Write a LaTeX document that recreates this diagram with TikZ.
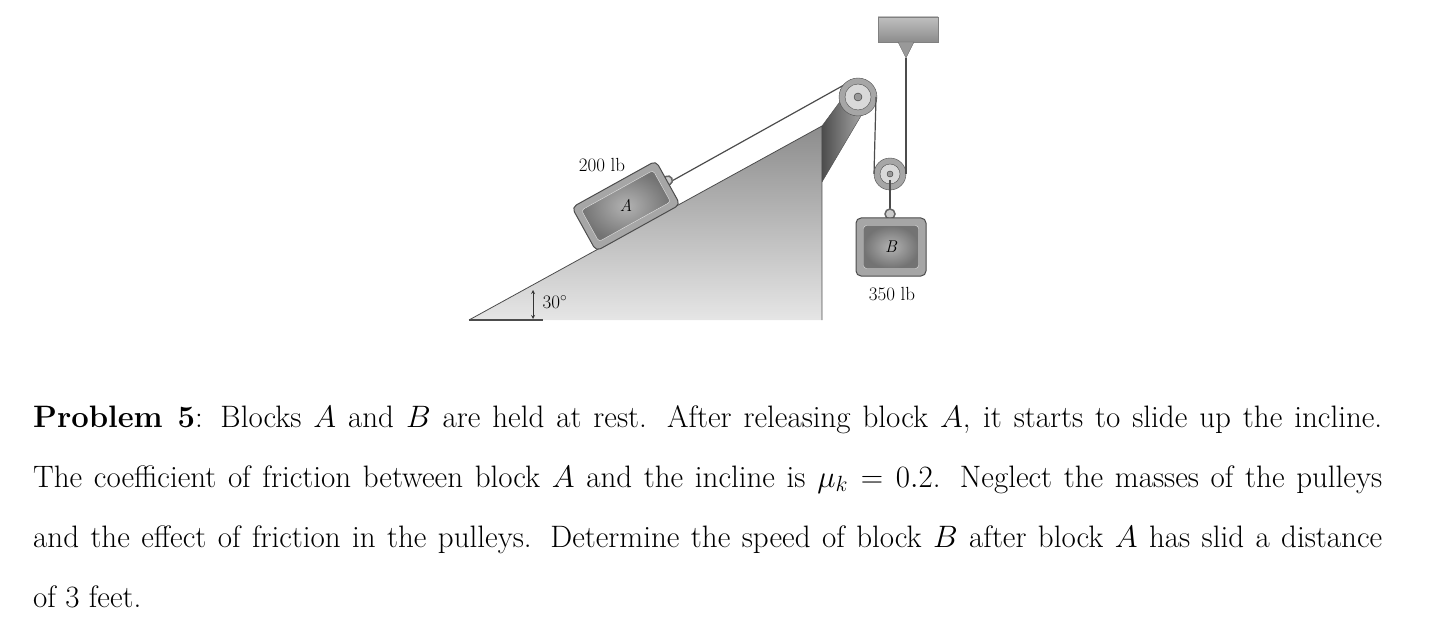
\RequirePackage{fix-cm}
\documentclass[tikz,border=0pt]{standalone}
\DeclareMathSizes{31}{31}{22}{16}
\begin{document}
\begin{tikzpicture}[x=1pt,y=-1pt,
  rope/.style={draw=black!70,line width=1.2pt},
  small/.style={font=\fontsize{19}{22}\selectfont}]
\useasboundingbox (0,0) rectangle (1432,639);
\shade[top color=black!45,bottom color=black!10] (469,320) -- (822,126) -- (822,320) -- cycle;
\draw[black!70,line width=0.8pt] (469,320) -- (822,126) -- (822,320);
\draw[black!70,line width=1.5pt] (469,320) -- (543,320);
% bracket
\shade[left color=black!70,right color=black!30,draw=black!70] (822,126) -- (850,88) -- (868,104) -- (822,182) -- cycle;
% rope to A
\coordinate (hook) at (670,182);
\draw[rope] (hook) -- (853,80);
% pulley 1
\node[circle,draw=black!70,fill=black!35,minimum size=38pt,inner sep=0] (p1) at (858,97) {};
\node[circle,draw=black!70,fill=black!15,minimum size=26pt,inner sep=0] at (p1) {};
\node[circle,draw=black!80,fill=black!40,minimum size=8pt,inner sep=0] at (p1) {};
% ceiling
\shade[top color=black!25,bottom color=black!45,draw=black!50] (878,17) rectangle (938,42);
\filldraw[fill=black!40,draw=black!60] (898,42) -- (914,42) -- (906,58) -- cycle;
% pulley 2
\node[circle,draw=black!70,fill=black!35,minimum size=32pt,inner sep=0] (p2) at (890,174) {};
\node[circle,draw=black!70,fill=black!15,minimum size=20pt,inner sep=0] at (p2) {};
\node[circle,draw=black!80,fill=black!40,minimum size=6pt,inner sep=0] at (p2) {};
\draw[rope] (876,97) -- (874,174);
\draw[rope] (906,58) -- (906,174);
\draw[rope] (890,180) -- (890,210);
\draw[black!60,line width=1.5pt,fill=black!20] (890,214) circle (5pt);
% block B
\node[draw=black!70,line width=1pt,rounded corners=5pt,fill=black!35,minimum width=70pt,minimum height=58pt] (B) at (891,247) {};
\node[draw=black!10,rounded corners=3pt,inner color=black!30,outer color=black!55,minimum width=55pt,minimum height=43pt] at (B) {\fontsize{17}{20}\selectfont\itshape B};
\node[small] (wb) at (892,294) {350 lb};
% block A
\begin{scope}[shift={(626,206)},rotate=29]
 \draw[black!60,line width=1.5pt,fill=black!20] (49,-2) circle (4.5pt);
 \draw[black!70,line width=1pt,rounded corners=5pt,fill=black!35] (-48,-25) rectangle (48,25);
 \shade[draw=black!10,rounded corners=3pt,inner color=black!30,outer color=black!55] (-41,-18) rectangle (41,18);
\end{scope}
\node[font=\fontsize{17}{20}\selectfont\itshape] (A) at (626,205) {A};
\node[small] (wa) at (602,165) {200 lb};
% angle
\draw[<->,>=stealth,black!80,line width=0.8pt] (533,290) -- (533,319);
\node[small] (ang) at (555,302) {30$^\circ$};
% text
\node[anchor=north west,inner sep=0,text width=1349pt,align=justify,font=\fontsize{31}{60}\selectfont] (txt) at (33,405)
{\textbf{Problem 5}: Blocks $A$ and $B$ are held at rest. After releasing block $A$, it starts to slide up the incline.\linebreak The coefficient of friction between block $A$ and the incline is $\mu_k=0.2$. Neglect the masses of the pulleys\linebreak and the effect of friction in the pulleys. Determine the speed of block $B$ after block $A$ has slid a distance\linebreak of 3 feet.};
\end{tikzpicture}
\end{document}
